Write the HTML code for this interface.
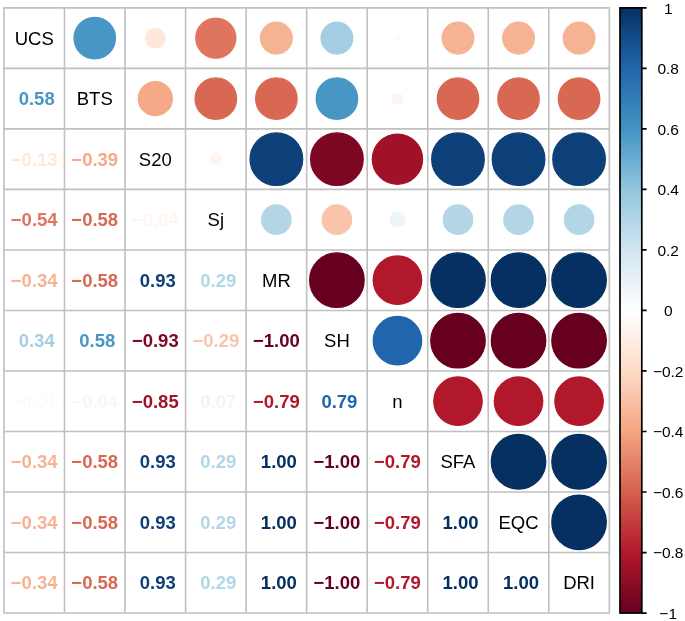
<!DOCTYPE html>
<html><head><meta charset="utf-8"><title>corrplot</title>
<style>html,body{margin:0;padding:0;background:#fff}svg{display:block}text{font-family:"Liberation Sans",Arial,Helvetica,sans-serif}.n{font-weight:bold;font-size:18.5px;text-anchor:middle}.l{font-size:18.5px;text-anchor:middle;fill:#000}.k{font-size:15.5px;text-anchor:middle;fill:#000}</style></head><body>
<svg width="685" height="621" viewBox="0 0 685 621">
<rect width="685" height="621" fill="#fff"/>
<text class="l" x="34.21" y="44.71">UCS</text>
<circle cx="94.75" cy="38.11" r="20.74" fill="#4896C5" stroke="#4896C5" stroke-width="1.3"/>
<circle cx="155.29" cy="38.11" r="9.82" fill="#FEE8DC" stroke="#FEE8DC" stroke-width="1.3"/>
<circle cx="215.83" cy="38.11" r="20.02" fill="#DF755E" stroke="#DF755E" stroke-width="1.3"/>
<circle cx="276.37" cy="38.11" r="15.88" fill="#F6B394" stroke="#F6B394" stroke-width="1.3"/>
<circle cx="336.91" cy="38.11" r="15.88" fill="#A3CEE3" stroke="#A3CEE3" stroke-width="1.3"/>
<circle cx="397.45" cy="38.11" r="2.72" fill="#FFFAF8" stroke="#FFFAF8" stroke-width="1.3"/>
<circle cx="457.99" cy="38.11" r="15.88" fill="#F6B394" stroke="#F6B394" stroke-width="1.3"/>
<circle cx="518.53" cy="38.11" r="15.88" fill="#F6B394" stroke="#F6B394" stroke-width="1.3"/>
<circle cx="579.07" cy="38.11" r="15.88" fill="#F6B394" stroke="#F6B394" stroke-width="1.3"/>
<text class="n" x="36.71" y="105.33" fill="#4896C5">0.58</text>
<text class="l" x="94.75" y="105.23">BTS</text>
<circle cx="155.29" cy="98.63" r="17.01" fill="#F5A987" stroke="#F5A987" stroke-width="1.3"/>
<circle cx="215.83" cy="98.63" r="20.74" fill="#D96853" stroke="#D96853" stroke-width="1.3"/>
<circle cx="276.37" cy="98.63" r="20.74" fill="#D96853" stroke="#D96853" stroke-width="1.3"/>
<circle cx="336.91" cy="98.63" r="20.74" fill="#4896C5" stroke="#4896C5" stroke-width="1.3"/>
<circle cx="397.45" cy="98.63" r="5.45" fill="#FEF5F0" stroke="#FEF5F0" stroke-width="1.3"/>
<circle cx="457.99" cy="98.63" r="20.74" fill="#D96853" stroke="#D96853" stroke-width="1.3"/>
<circle cx="518.53" cy="98.63" r="20.74" fill="#D96853" stroke="#D96853" stroke-width="1.3"/>
<circle cx="579.07" cy="98.63" r="20.74" fill="#D96853" stroke="#D96853" stroke-width="1.3"/>
<text class="n" x="34.21" y="165.85" fill="#FEE8DC">−0.13</text>
<text class="n" x="94.75" y="165.85" fill="#F5A987">−0.39</text>
<text class="l" x="155.29" y="165.75">S20</text>
<circle cx="215.83" cy="159.15" r="5.45" fill="#FEF5F0" stroke="#FEF5F0" stroke-width="1.3"/>
<circle cx="276.37" cy="159.15" r="26.27" fill="#0D4078" stroke="#0D4078" stroke-width="1.3"/>
<circle cx="336.91" cy="159.15" r="26.27" fill="#7E0723" stroke="#7E0723" stroke-width="1.3"/>
<circle cx="397.45" cy="159.15" r="25.11" fill="#A01228" stroke="#A01228" stroke-width="1.3"/>
<circle cx="457.99" cy="159.15" r="26.27" fill="#0D4078" stroke="#0D4078" stroke-width="1.3"/>
<circle cx="518.53" cy="159.15" r="26.27" fill="#0D4078" stroke="#0D4078" stroke-width="1.3"/>
<circle cx="579.07" cy="159.15" r="26.27" fill="#0D4078" stroke="#0D4078" stroke-width="1.3"/>
<text class="n" x="34.21" y="226.37" fill="#DF755E">−0.54</text>
<text class="n" x="94.75" y="226.37" fill="#D96853">−0.58</text>
<text class="n" x="155.29" y="226.37" fill="#FEF5F0">−0.04</text>
<text class="l" x="215.83" y="226.27">Sj</text>
<circle cx="276.37" cy="219.67" r="14.67" fill="#B3D6E7" stroke="#B3D6E7" stroke-width="1.3"/>
<circle cx="336.91" cy="219.67" r="14.67" fill="#F9C4A9" stroke="#F9C4A9" stroke-width="1.3"/>
<circle cx="397.45" cy="219.67" r="7.21" fill="#EEF5F9" stroke="#EEF5F9" stroke-width="1.3"/>
<circle cx="457.99" cy="219.67" r="14.67" fill="#B3D6E7" stroke="#B3D6E7" stroke-width="1.3"/>
<circle cx="518.53" cy="219.67" r="14.67" fill="#B3D6E7" stroke="#B3D6E7" stroke-width="1.3"/>
<circle cx="579.07" cy="219.67" r="14.67" fill="#B3D6E7" stroke="#B3D6E7" stroke-width="1.3"/>
<text class="n" x="34.21" y="286.89" fill="#F6B394">−0.34</text>
<text class="n" x="94.75" y="286.89" fill="#D96853">−0.58</text>
<text class="n" x="157.79" y="286.89" fill="#0D4078">0.93</text>
<text class="n" x="218.33" y="286.89" fill="#B3D6E7">0.29</text>
<text class="l" x="276.37" y="286.79">MR</text>
<circle cx="336.91" cy="280.19" r="27.24" fill="#67001F" stroke="#67001F" stroke-width="1.3"/>
<circle cx="397.45" cy="280.19" r="24.21" fill="#B2182B" stroke="#B2182B" stroke-width="1.3"/>
<circle cx="457.99" cy="280.19" r="27.24" fill="#053061" stroke="#053061" stroke-width="1.3"/>
<circle cx="518.53" cy="280.19" r="27.24" fill="#053061" stroke="#053061" stroke-width="1.3"/>
<circle cx="579.07" cy="280.19" r="27.24" fill="#053061" stroke="#053061" stroke-width="1.3"/>
<text class="n" x="36.71" y="347.41" fill="#A3CEE3">0.34</text>
<text class="n" x="97.25" y="347.41" fill="#4896C5">0.58</text>
<text class="n" x="155.29" y="347.41" fill="#7E0723">−0.93</text>
<text class="n" x="215.83" y="347.41" fill="#F9C4A9">−0.29</text>
<text class="n" x="276.37" y="347.41" fill="#67001F">−1.00</text>
<text class="l" x="336.91" y="347.31">SH</text>
<circle cx="397.45" cy="340.71" r="24.21" fill="#2166AC" stroke="#2166AC" stroke-width="1.3"/>
<circle cx="457.99" cy="340.71" r="27.24" fill="#67001F" stroke="#67001F" stroke-width="1.3"/>
<circle cx="518.53" cy="340.71" r="27.24" fill="#67001F" stroke="#67001F" stroke-width="1.3"/>
<circle cx="579.07" cy="340.71" r="27.24" fill="#67001F" stroke="#67001F" stroke-width="1.3"/>
<text class="n" x="34.21" y="407.93" fill="#FFFAF8">−0.01</text>
<text class="n" x="94.75" y="407.93" fill="#FEF5F0">−0.04</text>
<text class="n" x="155.29" y="407.93" fill="#A01228">−0.85</text>
<text class="n" x="218.33" y="407.93" fill="#EEF5F9">0.07</text>
<text class="n" x="276.37" y="407.93" fill="#B2182B">−0.79</text>
<text class="n" x="339.41" y="407.93" fill="#2166AC">0.79</text>
<text class="l" x="397.45" y="407.83">n</text>
<circle cx="457.99" cy="401.23" r="24.21" fill="#B2182B" stroke="#B2182B" stroke-width="1.3"/>
<circle cx="518.53" cy="401.23" r="24.21" fill="#B2182B" stroke="#B2182B" stroke-width="1.3"/>
<circle cx="579.07" cy="401.23" r="24.21" fill="#B2182B" stroke="#B2182B" stroke-width="1.3"/>
<text class="n" x="34.21" y="468.45" fill="#F6B394">−0.34</text>
<text class="n" x="94.75" y="468.45" fill="#D96853">−0.58</text>
<text class="n" x="157.79" y="468.45" fill="#0D4078">0.93</text>
<text class="n" x="218.33" y="468.45" fill="#B3D6E7">0.29</text>
<text class="n" x="278.87" y="468.45" fill="#053061">1.00</text>
<text class="n" x="336.91" y="468.45" fill="#67001F">−1.00</text>
<text class="n" x="397.45" y="468.45" fill="#B2182B">−0.79</text>
<text class="l" x="457.99" y="468.35">SFA</text>
<circle cx="518.53" cy="461.75" r="27.24" fill="#053061" stroke="#053061" stroke-width="1.3"/>
<circle cx="579.07" cy="461.75" r="27.24" fill="#053061" stroke="#053061" stroke-width="1.3"/>
<text class="n" x="34.21" y="528.97" fill="#F6B394">−0.34</text>
<text class="n" x="94.75" y="528.97" fill="#D96853">−0.58</text>
<text class="n" x="157.79" y="528.97" fill="#0D4078">0.93</text>
<text class="n" x="218.33" y="528.97" fill="#B3D6E7">0.29</text>
<text class="n" x="278.87" y="528.97" fill="#053061">1.00</text>
<text class="n" x="336.91" y="528.97" fill="#67001F">−1.00</text>
<text class="n" x="397.45" y="528.97" fill="#B2182B">−0.79</text>
<text class="n" x="460.49" y="528.97" fill="#053061">1.00</text>
<text class="l" x="518.53" y="528.87">EQC</text>
<circle cx="579.07" cy="522.27" r="27.24" fill="#053061" stroke="#053061" stroke-width="1.3"/>
<text class="n" x="34.21" y="589.49" fill="#F6B394">−0.34</text>
<text class="n" x="94.75" y="589.49" fill="#D96853">−0.58</text>
<text class="n" x="157.79" y="589.49" fill="#0D4078">0.93</text>
<text class="n" x="218.33" y="589.49" fill="#B3D6E7">0.29</text>
<text class="n" x="278.87" y="589.49" fill="#053061">1.00</text>
<text class="n" x="336.91" y="589.49" fill="#67001F">−1.00</text>
<text class="n" x="397.45" y="589.49" fill="#B2182B">−0.79</text>
<text class="n" x="460.49" y="589.49" fill="#053061">1.00</text>
<text class="n" x="521.03" y="589.49" fill="#053061">1.00</text>
<text class="l" x="579.07" y="589.39">DRI</text>
<path d="M3.94 7.85V613.05M3.94 7.85H609.34M64.48 7.85V613.05M3.94 68.37H609.34M125.02 7.85V613.05M3.94 128.89H609.34M185.56 7.85V613.05M3.94 189.41H609.34M246.10 7.85V613.05M3.94 249.93H609.34M306.64 7.85V613.05M3.94 310.45H609.34M367.18 7.85V613.05M3.94 370.97H609.34M427.72 7.85V613.05M3.94 431.49H609.34M488.26 7.85V613.05M3.94 492.01H609.34M548.80 7.85V613.05M3.94 552.53H609.34M609.34 7.85V613.05M3.94 613.05H609.34" fill="none" stroke="#c0c0c0" stroke-width="1.6" stroke-linecap="round" stroke-linejoin="round"/>
<defs><linearGradient id="cb" x1="0" y1="0" x2="0" y2="1"><stop offset="0%" stop-color="#053061"/><stop offset="10%" stop-color="#2166AC"/><stop offset="20%" stop-color="#4393C3"/><stop offset="30%" stop-color="#92C5DE"/><stop offset="40%" stop-color="#D1E5F0"/><stop offset="50%" stop-color="#FFFFFF"/><stop offset="60%" stop-color="#FDDBC7"/><stop offset="70%" stop-color="#F4A582"/><stop offset="80%" stop-color="#D6604D"/><stop offset="90%" stop-color="#B2182B"/><stop offset="100%" stop-color="#67001F"/></linearGradient></defs>
<rect x="620.00" y="7.85" width="21.80" height="605.20" fill="url(#cb)"/>
<rect x="620.00" y="7.85" width="21.80" height="605.20" fill="none" stroke="#000" stroke-width="1.7"/>
<text class="k" x="668.2" y="13.55">1</text>
<text class="k" x="668.2" y="74.07">0.8</text>
<text class="k" x="668.2" y="134.59">0.6</text>
<text class="k" x="668.2" y="195.11">0.4</text>
<text class="k" x="668.2" y="255.63">0.2</text>
<text class="k" x="668.2" y="316.15">0</text>
<text class="k" x="668.2" y="376.67">−0.2</text>
<text class="k" x="668.2" y="437.19">−0.4</text>
<text class="k" x="668.2" y="497.71">−0.6</text>
<text class="k" x="668.2" y="558.23">−0.8</text>
<text class="k" x="668.2" y="618.75">−1</text>
<path d="M641.80 7.85H646.6M641.80 68.37H646.6M641.80 128.89H646.6M641.80 189.41H646.6M641.80 249.93H646.6M641.80 310.45H646.6M641.80 370.97H646.6M641.80 431.49H646.6M641.80 492.01H646.6M641.80 552.53H646.6M641.80 613.05H646.6" fill="none" stroke="#000" stroke-width="1.7"/>
</svg></body></html>
